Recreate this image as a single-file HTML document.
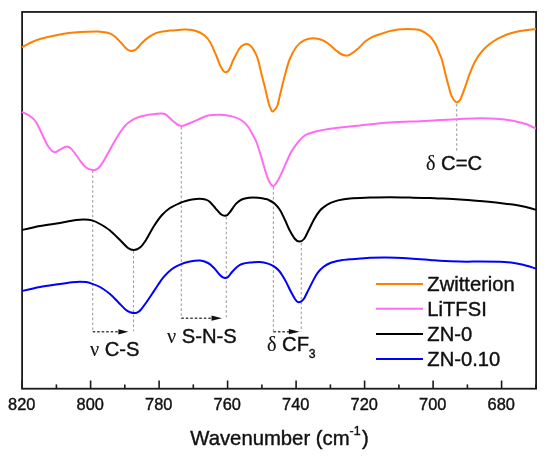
<!DOCTYPE html>
<html><head><meta charset="utf-8"><title>Wavenumber spectra</title>
<style>
html,body{margin:0;padding:0;background:#fff;}
body{width:550px;height:461px;overflow:hidden;}
svg{display:block;}
text{font-family:"Liberation Sans",Arial,sans-serif;fill:#111;stroke:#111;stroke-width:0.4px;}
.ser{font-family:"Liberation Serif","Times New Roman",serif;stroke-width:0.15px;}
</style></head><body>
<svg width="550" height="461" viewBox="0 0 550 461">
<rect width="550" height="461" fill="#fff"/>
<g fill="none" stroke="#a0a0a0" stroke-width="1.1" stroke-dasharray="2.6 2.3">
<path d="M92.7 170.6V331.8"/>
<path d="M133.5 251V331.3"/>
<path d="M181.3 127V318.2"/>
<path d="M226.3 217V318.6"/>
<path d="M273.4 187V331.7"/>
<path d="M301.3 243V331.7"/>
<path d="M456.7 104V152"/>
</g>
<g fill="none" stroke="#444" stroke-width="1.4" stroke-dasharray="2.5 2">
<path d="M92.7 331.8H119"/>
<path d="M181.3 318.2H212"/>
<path d="M273.4 331.7H289.5"/>
</g>
<g fill="#111">
<path d="M118.4 329.2L128.4 331.8L118.4 334.4Z"/>
<path d="M211.5 315.6L222 318.2L211.5 320.8Z"/>
<path d="M288.8 329.1L299.6 331.7L288.8 334.3Z"/>
</g>
<g stroke="#1a1a1a" stroke-width="1.6"><line x1="22.1" y1="388.7" x2="22.1" y2="380.5"/><line x1="56.4" y1="388.7" x2="56.4" y2="384.4"/><line x1="90.6" y1="388.7" x2="90.6" y2="380.5"/><line x1="124.8" y1="388.7" x2="124.8" y2="384.4"/><line x1="159.1" y1="388.7" x2="159.1" y2="380.5"/><line x1="193.3" y1="388.7" x2="193.3" y2="384.4"/><line x1="227.6" y1="388.7" x2="227.6" y2="380.5"/><line x1="261.9" y1="388.7" x2="261.9" y2="384.4"/><line x1="296.1" y1="388.7" x2="296.1" y2="380.5"/><line x1="330.4" y1="388.7" x2="330.4" y2="384.4"/><line x1="364.6" y1="388.7" x2="364.6" y2="380.5"/><line x1="398.9" y1="388.7" x2="398.9" y2="384.4"/><line x1="433.1" y1="388.7" x2="433.1" y2="380.5"/><line x1="467.4" y1="388.7" x2="467.4" y2="384.4"/><line x1="501.6" y1="388.7" x2="501.6" y2="380.5"/><line x1="535.9" y1="388.7" x2="535.9" y2="384.4"/></g>
<rect x="22.1" y="11.95" width="514" height="376.75" fill="none" stroke="#1a1a1a" stroke-width="1.8"/>
<g fill="none" stroke-width="2.0" stroke-linejoin="round" stroke-linecap="butt">
<path stroke="#ff8000" d="M22.0 47.4C23.3 46.7 27.0 44.4 30.0 43.0C33.0 41.6 35.0 40.4 40.0 39.0C45.0 37.6 53.3 35.6 60.0 34.4C66.7 33.2 74.0 32.5 80.0 32.0C86.0 31.5 92.7 31.4 96.0 31.4C99.3 31.4 97.9 31.5 100.0 31.8C102.1 32.1 106.3 32.3 108.7 33.0C111.1 33.7 112.5 34.7 114.5 36.2C116.5 37.7 118.5 40.0 120.4 42.0C122.4 44.0 124.8 47.1 126.2 48.5C127.6 49.9 128.2 50.0 129.0 50.4C129.8 50.8 130.5 51.0 131.3 51.0C132.1 51.0 132.8 50.8 133.6 50.5C134.4 50.2 135.0 50.3 136.4 49.0C137.8 47.7 140.3 44.6 142.2 42.7C144.1 40.8 145.8 39.2 148.0 37.6C150.2 36.0 152.9 34.3 155.3 33.3C157.7 32.3 160.1 31.9 162.5 31.5C164.9 31.1 167.1 30.9 170.0 30.6C172.9 30.3 177.3 30.0 180.0 29.8C182.7 29.6 183.3 29.4 186.0 29.6C188.7 29.8 193.0 30.1 196.0 31.0C199.0 31.9 201.7 33.2 204.0 35.0C206.3 36.8 208.0 38.7 210.0 42.0C212.0 45.3 214.3 51.1 216.0 55.0C217.7 58.9 218.8 62.6 220.0 65.2C221.2 67.8 222.1 69.3 223.0 70.5C223.9 71.7 224.7 72.1 225.5 72.2C226.3 72.3 227.2 71.9 228.0 71.2C228.8 70.5 229.0 70.1 230.0 68.0C231.0 65.9 232.3 61.9 234.0 58.5C235.7 55.1 238.4 50.0 240.0 47.7C241.6 45.5 242.3 45.6 243.4 45.0C244.5 44.4 245.6 44.1 246.6 44.1C247.6 44.1 248.5 44.2 249.6 45.0C250.7 45.8 251.9 46.9 253.2 49.1C254.5 51.3 256.1 53.9 257.5 58.0C258.9 62.1 260.3 69.3 261.5 74.0C262.7 78.7 263.4 81.2 264.6 86.0C265.8 90.8 267.6 99.3 268.6 103.0C269.6 106.7 269.8 106.6 270.4 108.0C271.0 109.4 271.7 111.4 272.5 111.6C273.3 111.8 274.5 110.1 275.4 109.0C276.2 107.9 276.7 107.8 277.6 105.0C278.5 102.2 279.5 96.8 280.7 92.0C281.9 87.2 283.2 81.5 284.7 76.0C286.2 70.5 287.8 63.9 289.8 59.0C291.8 54.1 294.2 49.6 296.6 46.5C299.1 43.4 301.7 41.6 304.5 40.2C307.3 38.8 310.4 38.3 313.3 38.3C316.2 38.3 319.4 39.0 322.0 40.0C324.6 41.0 326.7 42.4 329.1 44.2C331.5 46.0 334.4 49.1 336.4 50.7C338.4 52.3 339.4 53.2 341.0 54.0C342.6 54.8 344.3 55.5 345.8 55.6C347.3 55.7 347.9 55.8 350.0 54.6C352.1 53.4 355.6 50.7 358.2 48.5C360.8 46.3 363.1 43.2 365.5 41.3C367.9 39.4 370.3 38.1 372.7 36.9C375.1 35.7 377.2 35.2 380.0 34.2C382.8 33.2 386.5 31.9 389.5 31.1C392.5 30.3 395.1 30.0 398.0 29.6C400.9 29.2 403.6 28.9 407.0 28.9C410.4 28.9 415.5 29.0 418.6 29.7C421.8 30.4 424.0 32.2 425.9 33.3C427.8 34.4 428.8 35.3 430.0 36.5C431.2 37.7 432.2 39.1 433.2 40.5C434.2 41.9 435.0 43.0 436.0 45.0C437.0 47.0 438.0 50.1 439.0 52.5C440.0 54.9 441.0 56.9 441.8 59.5C442.6 62.1 443.3 65.1 444.0 68.0C444.7 70.9 445.1 72.8 446.2 77.0C447.3 81.2 449.4 89.6 450.5 93.0C451.6 96.4 451.9 96.4 452.5 97.6C453.1 98.8 453.5 99.5 454.2 100.3C454.9 101.1 455.9 102.4 456.7 102.5C457.5 102.6 458.3 101.6 459.0 101.0C459.7 100.4 459.7 101.1 460.7 98.8C461.7 96.5 463.6 91.3 465.1 87.2C466.6 83.1 467.8 78.5 469.5 74.1C471.2 69.7 473.4 64.6 475.3 61.0C477.2 57.4 478.9 55.0 481.1 52.3C483.3 49.6 486.2 46.9 488.4 45.0C490.5 43.1 492.0 42.3 494.0 41.0C496.0 39.7 497.8 38.6 500.5 37.4C503.2 36.1 506.8 34.6 510.0 33.5C513.2 32.4 515.7 31.8 520.0 31.0C524.3 30.2 533.3 29.3 536.0 29.0"/>
<path stroke="#ff6cf2" d="M22.0 112.0C23.3 112.7 27.7 114.3 30.0 116.0C32.3 117.7 34.0 119.0 36.0 122.0C38.0 125.0 40.0 130.0 42.0 134.0C44.0 138.0 46.0 143.0 48.0 146.0C50.0 149.0 52.2 151.5 54.2 152.1C56.2 152.7 57.9 150.5 60.0 149.6C62.1 148.7 64.6 146.6 66.6 146.6C68.6 146.6 69.8 147.3 72.0 149.6C74.2 151.9 77.7 157.5 80.0 160.5C82.3 163.5 83.9 165.9 86.0 167.5C88.1 169.1 91.0 169.8 92.7 170.1C94.5 170.4 95.4 169.8 96.5 169.3C97.6 168.8 98.4 168.2 99.5 167.0C100.6 165.8 101.8 163.9 103.0 162.0C104.2 160.1 105.6 157.5 106.8 155.3C108.0 153.1 109.2 151.2 110.4 149.0C111.6 146.8 112.9 144.4 114.1 142.2C115.3 140.0 116.6 137.9 117.8 136.0C119.0 134.1 120.2 132.2 121.4 130.5C122.6 128.8 123.8 127.3 125.0 126.0C126.2 124.7 126.8 123.8 128.6 122.5C130.4 121.2 133.0 119.4 135.9 118.2C138.8 117.0 142.5 116.0 146.1 115.3C149.7 114.5 155.0 114.0 157.7 113.7C160.3 113.4 160.8 113.4 162.0 113.5C163.2 113.6 164.1 113.8 165.0 114.2C165.9 114.6 166.0 114.6 167.5 115.9C169.0 117.2 171.8 120.3 174.0 122.0C176.2 123.7 178.3 125.8 181.0 126.0C183.7 126.2 187.2 124.1 190.0 123.0C192.8 121.9 195.0 120.8 198.0 119.6C201.0 118.4 204.3 116.4 208.0 115.6C211.7 114.8 216.0 114.7 220.0 114.8C224.0 114.9 228.5 115.5 232.0 116.4C235.5 117.3 238.4 118.4 241.0 120.0C243.6 121.6 245.7 123.6 247.6 126.0C249.5 128.4 251.1 131.8 252.6 134.5C254.1 137.2 255.0 138.4 256.4 142.0C257.8 145.6 259.6 151.3 261.0 156.0C262.4 160.7 263.7 165.8 265.0 170.0C266.3 174.2 267.7 178.3 269.0 181.0C270.3 183.7 271.7 185.8 273.0 186.0C274.3 186.2 275.6 184.2 277.0 182.0C278.4 179.8 280.1 176.1 281.6 173.0C283.1 169.9 284.4 166.7 286.0 163.2C287.6 159.7 289.1 155.6 291.0 152.2C292.9 148.8 295.1 145.7 297.5 142.8C299.9 139.9 302.6 136.8 305.5 135.0C308.4 133.2 310.9 132.9 315.0 131.8C319.1 130.8 322.5 129.8 330.0 128.7C337.5 127.6 350.0 126.4 360.0 125.4C370.0 124.4 380.0 123.3 390.0 122.6C400.0 121.9 411.7 121.6 420.0 121.2C428.3 120.8 433.3 120.5 440.0 120.1C446.7 119.7 453.3 119.3 460.0 119.0C466.7 118.7 473.3 118.3 480.0 118.3C486.7 118.3 494.0 118.5 500.0 119.0C506.0 119.5 511.7 120.6 516.0 121.4C520.3 122.2 522.7 122.8 526.0 124.0C529.3 125.2 534.3 127.8 536.0 128.6"/>
<path stroke="#000" d="M22.0 230.0C25.0 229.3 33.7 227.2 40.0 226.0C46.3 224.8 54.0 224.0 60.0 223.0C66.0 222.0 72.0 220.6 76.0 220.0C80.0 219.4 81.3 219.3 84.0 219.4C86.7 219.5 89.3 219.6 92.0 220.4C94.7 221.2 97.0 222.3 100.0 224.0C103.0 225.7 106.7 227.8 110.0 230.5C113.3 233.2 117.0 237.1 120.0 240.0C123.0 242.9 125.7 246.3 128.0 248.0C130.3 249.7 132.0 250.1 134.0 250.0C136.0 249.9 138.0 249.3 140.0 247.6C142.0 245.9 143.7 243.6 146.0 240.0C148.3 236.4 151.3 230.2 154.0 226.0C156.7 221.8 159.3 218.0 162.0 215.0C164.7 212.0 167.0 210.0 170.0 208.0C173.0 206.0 177.5 204.1 180.0 203.0C182.5 201.9 183.0 201.8 185.0 201.2C187.0 200.6 189.6 200.0 192.0 199.6C194.4 199.2 197.3 198.8 199.5 198.8C201.7 198.8 203.7 199.0 205.4 199.5C207.1 200.0 208.0 200.2 209.7 201.7C211.4 203.2 213.7 206.2 215.5 208.3C217.3 210.4 219.3 212.9 220.6 214.1C221.9 215.3 222.4 215.0 223.1 215.3C223.8 215.6 224.3 215.7 225.0 215.7C225.7 215.7 226.3 215.7 227.2 215.1C228.0 214.5 228.6 213.8 230.1 211.9C231.6 210.0 234.0 206.0 235.9 203.9C237.8 201.8 239.5 200.5 241.7 199.5C243.9 198.5 246.3 198.1 249.0 197.8C251.7 197.5 255.3 197.6 258.0 197.8C260.7 198.0 263.2 198.6 265.0 198.9C266.8 199.2 266.9 199.1 268.5 199.9C270.1 200.7 272.6 201.8 274.5 203.5C276.4 205.2 278.2 207.2 280.0 210.0C281.8 212.8 283.4 216.7 285.0 220.0C286.6 223.3 287.8 226.8 289.5 230.0C291.2 233.2 293.4 237.1 295.0 239.0C296.6 240.9 297.9 241.6 299.4 241.6C300.9 241.6 302.4 241.0 304.0 239.0C305.6 237.0 307.3 232.8 309.0 229.5C310.7 226.2 312.2 222.7 314.0 219.5C315.8 216.3 318.0 212.8 320.0 210.5C322.0 208.2 324.3 206.7 326.0 205.5C327.7 204.3 328.0 204.0 330.0 203.2C332.0 202.3 334.7 201.2 338.0 200.4C341.3 199.6 344.7 198.9 350.0 198.4C355.3 197.9 363.3 197.8 370.0 197.6C376.7 197.4 383.3 197.2 390.0 197.2C396.7 197.2 403.3 197.5 410.0 197.6C416.7 197.7 425.0 197.8 430.0 198.0C435.0 198.2 435.0 198.3 440.0 198.5C445.0 198.7 453.3 199.0 460.0 199.4C466.7 199.8 473.3 200.4 480.0 201.0C486.7 201.6 494.0 202.3 500.0 203.0C506.0 203.7 511.7 204.3 516.0 205.0C520.3 205.7 522.7 206.2 526.0 207.0C529.3 207.8 534.3 209.3 536.0 209.8"/>
<path stroke="#0000ff" d="M22.0 291.0C25.0 290.3 33.7 288.2 40.0 287.0C46.3 285.8 54.7 284.8 60.0 284.0C65.3 283.2 68.7 282.7 72.0 282.3C75.3 281.9 77.7 281.7 80.0 281.7C82.3 281.7 84.2 281.8 86.0 282.1C87.8 282.4 88.7 282.6 91.0 283.4C93.3 284.2 96.8 285.2 100.0 287.0C103.2 288.8 107.0 291.5 110.0 294.0C113.0 296.5 115.3 299.3 118.0 302.0C120.7 304.7 123.9 308.3 126.0 310.0C128.1 311.7 129.1 311.8 130.4 312.3C131.8 312.8 132.9 313.1 134.1 313.1C135.3 313.1 136.5 312.8 137.6 312.3C138.7 311.8 139.1 311.7 140.6 310.0C142.1 308.3 144.6 304.8 146.6 302.0C148.6 299.2 150.6 296.2 152.5 293.3C154.4 290.4 156.4 287.3 158.3 284.5C160.2 281.7 161.7 279.3 164.0 276.7C166.3 274.1 169.3 271.0 172.0 269.0C174.7 267.0 177.0 265.8 180.0 264.6C183.0 263.4 186.7 262.3 190.0 261.6C193.3 260.9 197.0 260.4 200.0 260.6C203.0 260.8 205.7 261.8 208.0 263.0C210.3 264.2 212.0 266.0 214.0 268.0C216.0 270.0 218.5 273.4 220.0 275.0C221.5 276.6 222.1 276.9 223.0 277.4C223.9 277.9 224.6 278.1 225.4 278.0C226.2 277.9 226.9 278.0 228.0 277.0C229.1 276.0 230.5 273.7 232.0 272.0C233.5 270.3 235.3 268.3 237.0 267.0C238.7 265.7 239.8 264.7 242.0 264.0C244.2 263.3 247.0 262.9 250.0 262.6C253.0 262.3 257.0 261.8 260.0 262.0C263.0 262.2 265.7 262.9 268.0 263.6C270.3 264.3 272.2 265.2 274.0 266.4C275.8 267.6 277.7 269.3 279.0 270.7C280.3 272.1 280.9 273.2 282.0 275.0C283.1 276.8 284.2 278.4 285.8 281.4C287.4 284.4 290.0 290.0 291.6 293.0C293.2 296.0 294.4 298.1 295.3 299.5C296.2 300.9 296.4 300.9 297.0 301.4C297.6 301.9 298.1 302.4 298.9 302.3C299.7 302.2 300.8 301.8 301.8 301.0C302.8 300.2 303.5 299.5 304.7 297.4C305.9 295.3 307.6 291.5 309.1 288.6C310.6 285.7 312.1 282.6 313.5 279.9C314.9 277.2 316.1 274.8 317.8 272.6C319.5 270.4 321.4 268.5 323.6 266.8C325.8 265.1 328.0 263.8 330.9 262.7C333.8 261.6 337.9 260.9 341.1 260.3C344.3 259.7 346.9 259.6 350.0 259.3C353.1 259.0 356.7 258.9 360.0 258.6C363.3 258.4 365.7 258.0 370.0 257.8C374.3 257.6 379.3 257.3 386.0 257.4C392.7 257.5 402.7 258.0 410.0 258.4C417.3 258.8 425.0 259.6 430.0 260.0C435.0 260.4 435.0 260.5 440.0 260.8C445.0 261.1 453.3 261.5 460.0 261.6C466.7 261.7 473.3 261.6 480.0 261.6C486.7 261.6 494.3 261.6 500.0 261.8C505.7 262.0 510.0 262.5 514.0 263.0C518.0 263.5 520.3 264.1 524.0 265.0C527.7 265.9 534.0 268.0 536.0 268.6"/>
</g>
<g font-size="16.4px"><text x="21.8" y="409.6" text-anchor="middle">820</text><text x="90.3" y="409.6" text-anchor="middle">800</text><text x="158.8" y="409.6" text-anchor="middle">780</text><text x="227.3" y="409.6" text-anchor="middle">760</text><text x="295.8" y="409.6" text-anchor="middle">740</text><text x="364.3" y="409.6" text-anchor="middle">720</text><text x="432.8" y="409.6" text-anchor="middle">700</text><text x="501.3" y="409.6" text-anchor="middle">680</text></g>
<text x="190.3" y="445.1" font-size="20.3px">Wavenumber (cm<tspan font-size="12.4px" dy="-10.2">-1</tspan><tspan dy="10.2" dx="1.4">)</tspan></text>
<g stroke-width="2">
<line x1="376" x2="423" y1="284" y2="284" stroke="#ff8000"/>
<line x1="376" x2="423" y1="308.8" y2="308.8" stroke="#ff6cf2"/>
<line x1="376" x2="423" y1="334" y2="334" stroke="#000"/>
<line x1="376" x2="423" y1="359" y2="359" stroke="#0000ff"/>
</g>
<g font-size="20.2px">
<text x="427.3" y="290.8">Zwitterion</text>
<text x="427.3" y="315.7">LiTFSI</text>
<text x="427.3" y="340.8">ZN-0</text>
<text x="427.3" y="365.7">ZN-0.10</text>
</g>
<g font-size="20.2px">
<text x="426" y="169.6"><tspan class="ser">δ</tspan> C=C</text>
<text x="90" y="356.2"><tspan class="ser">ν</tspan> C-S</text>
<text x="167" y="343"><tspan class="ser">ν</tspan> S-N-S</text>
<text x="267" y="351.2"><tspan class="ser">δ</tspan> CF<tspan font-size="12.2px" dy="7" dx="-0.3">3</tspan></text>
</g>
</svg>
</body></html>
